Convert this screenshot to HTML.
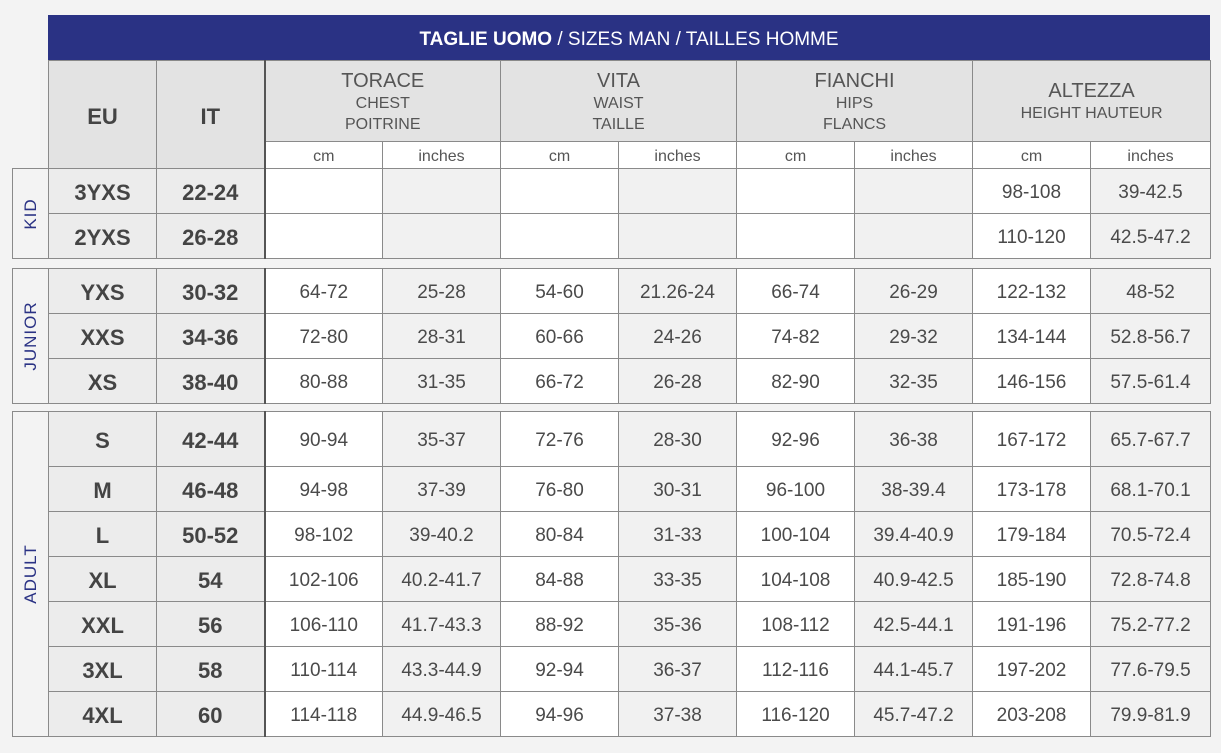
<!DOCTYPE html>
<html><head><meta charset="utf-8"><style>
body{margin:0;width:1221px;height:753px;background:#f3f3f3;font-family:"Liberation Sans",sans-serif;position:relative;overflow:hidden;color:#444}
.bar{position:absolute;left:48px;top:15px;width:1162px;height:45px;background:#2a3284;color:#fff;font-size:19px;text-align:center;line-height:50px}
table{position:absolute;border-collapse:collapse;table-layout:fixed}
td{border:1px solid #8a8a8a;text-align:center;padding:3px 0 0 0;font-size:19px;color:#4a4a4a;background:#fff}
td.i{background:#f1f1f1}
td.eu,td.it{background:#ececec;font-weight:bold;font-size:22px;color:#444}
td.it{border-right:2px solid #555}
td.lab{background:#f3f3f3;position:relative}
.lab span{position:absolute;left:50%;top:50%;transform:translate(-50%,-50%) rotate(-90deg);color:#2a3284;font-size:17px;letter-spacing:1px;white-space:nowrap}
.hd td{background:#e3e3e3;color:#555;font-size:16px;line-height:21px}
.hd td.eu,.hd td.it{font-size:22px;color:#444;font-weight:bold}
.hd td.u{background:#fff;font-size:16px;line-height:20px}
</style></head><body>
<div class="bar"><b>TAGLIE UOMO</b> / SIZES MAN / TAILLES HOMME</div>
<table class="hd" style="left:48px;top:60px;width:1162px">
<colgroup><col style="width:108px"><col style="width:108px"><col span="7" style="width:118px"><col style="width:120px"></colgroup>
<tr style="height:81px"><td rowspan="2" class="eu" style="background:#e3e3e3">EU</td><td rowspan="2" class="it" style="background:#e3e3e3">IT</td>
<td colspan="2"><span style="font-size:20px">TORACE</span><br>CHEST<br>POITRINE</td>
<td colspan="2"><span style="font-size:20px">VITA</span><br>WAIST<br>TAILLE</td>
<td colspan="2"><span style="font-size:20px">FIANCHI</span><br>HIPS<br>FLANCS</td>
<td colspan="2"><span style="font-size:20px">ALTEZZA</span><br>HEIGHT HAUTEUR</td></tr>
<tr style="height:27px"><td class="u">cm</td><td class="u">inches</td><td class="u">cm</td><td class="u">inches</td><td class="u">cm</td><td class="u">inches</td><td class="u">cm</td><td class="u">inches</td></tr>
</table>

<table style="left:12px;top:168px;width:1198px">
<colgroup><col style="width:36px"><col style="width:108px"><col style="width:108px"><col span="7" style="width:118px"><col style="width:120px"></colgroup>
<tr style="height:45px"><td rowspan="2" class="lab"><span>KID</span></td><td class="eu">3YXS</td><td class="it">22-24</td><td></td><td class="i"></td><td></td><td class="i"></td><td></td><td class="i"></td><td>98-108</td><td class="i">39-42.5</td></tr>
<tr style="height:45px"><td class="eu">2YXS</td><td class="it">26-28</td><td></td><td class="i"></td><td></td><td class="i"></td><td></td><td class="i"></td><td>110-120</td><td class="i">42.5-47.2</td></tr>
</table>

<table style="left:12px;top:268px;width:1198px">
<colgroup><col style="width:36px"><col style="width:108px"><col style="width:108px"><col span="7" style="width:118px"><col style="width:120px"></colgroup>
<tr style="height:45px"><td rowspan="3" class="lab"><span>JUNIOR</span></td><td class="eu">YXS</td><td class="it">30-32</td><td>64-72</td><td class="i">25-28</td><td>54-60</td><td class="i">21.26-24</td><td>66-74</td><td class="i">26-29</td><td>122-132</td><td class="i">48-52</td></tr>
<tr style="height:45px"><td class="eu">XXS</td><td class="it">34-36</td><td>72-80</td><td class="i">28-31</td><td>60-66</td><td class="i">24-26</td><td>74-82</td><td class="i">29-32</td><td>134-144</td><td class="i">52.8-56.7</td></tr>
<tr style="height:45px"><td class="eu">XS</td><td class="it">38-40</td><td>80-88</td><td class="i">31-35</td><td>66-72</td><td class="i">26-28</td><td>82-90</td><td class="i">32-35</td><td>146-156</td><td class="i">57.5-61.4</td></tr>
</table>

<table style="left:12px;top:411px;width:1198px">
<colgroup><col style="width:36px"><col style="width:108px"><col style="width:108px"><col span="7" style="width:118px"><col style="width:120px"></colgroup>
<tr style="height:55px"><td rowspan="7" class="lab"><span>ADULT</span></td><td class="eu">S</td><td class="it">42-44</td><td>90-94</td><td class="i">35-37</td><td>72-76</td><td class="i">28-30</td><td>92-96</td><td class="i">36-38</td><td>167-172</td><td class="i">65.7-67.7</td></tr>
<tr style="height:45px"><td class="eu">M</td><td class="it">46-48</td><td>94-98</td><td class="i">37-39</td><td>76-80</td><td class="i">30-31</td><td>96-100</td><td class="i">38-39.4</td><td>173-178</td><td class="i">68.1-70.1</td></tr>
<tr style="height:45px"><td class="eu">L</td><td class="it">50-52</td><td>98-102</td><td class="i">39-40.2</td><td>80-84</td><td class="i">31-33</td><td>100-104</td><td class="i">39.4-40.9</td><td>179-184</td><td class="i">70.5-72.4</td></tr>
<tr style="height:45px"><td class="eu">XL</td><td class="it">54</td><td>102-106</td><td class="i">40.2-41.7</td><td>84-88</td><td class="i">33-35</td><td>104-108</td><td class="i">40.9-42.5</td><td>185-190</td><td class="i">72.8-74.8</td></tr>
<tr style="height:45px"><td class="eu">XXL</td><td class="it">56</td><td>106-110</td><td class="i">41.7-43.3</td><td>88-92</td><td class="i">35-36</td><td>108-112</td><td class="i">42.5-44.1</td><td>191-196</td><td class="i">75.2-77.2</td></tr>
<tr style="height:45px"><td class="eu">3XL</td><td class="it">58</td><td>110-114</td><td class="i">43.3-44.9</td><td>92-94</td><td class="i">36-37</td><td>112-116</td><td class="i">44.1-45.7</td><td>197-202</td><td class="i">77.6-79.5</td></tr>
<tr style="height:45px"><td class="eu">4XL</td><td class="it">60</td><td>114-118</td><td class="i">44.9-46.5</td><td>94-96</td><td class="i">37-38</td><td>116-120</td><td class="i">45.7-47.2</td><td>203-208</td><td class="i">79.9-81.9</td></tr>
</table>
</body></html>
